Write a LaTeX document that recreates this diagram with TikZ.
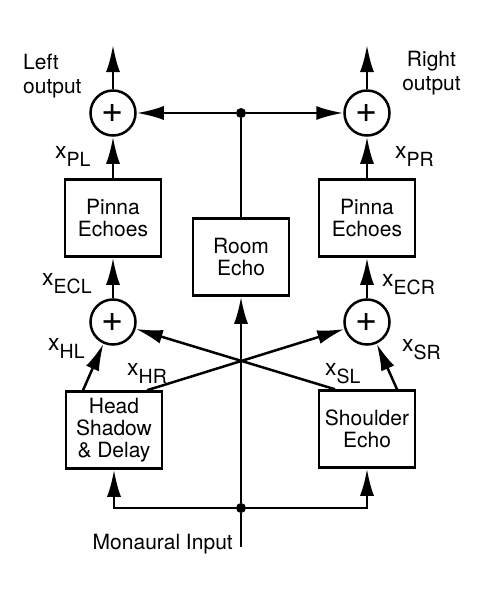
\documentclass[tikz,border=0pt]{standalone}
\usepackage{fontspec}
\setmainfont{TeX Gyre Heros}
\usetikzlibrary{arrows.meta,calc}
\newcommand{\xlab}[1]{{\fontsize{23}{23}\selectfont x}\raisebox{-8pt}{\fontsize{19.5}{19.5}\selectfont #1}}
\begin{document}
\begin{tikzpicture}[x=1pt,y=-1pt,
  every node/.style={font=\fontsize{21}{22}\selectfont, inner sep=0pt},
  blk/.style={draw, line width=2.5pt, minimum width=96pt, minimum height=77pt, align=center},
  sum/.style={draw, circle, line width=2.5pt, minimum size=45pt, font=\fontsize{38}{38}\selectfont},
  dot/.style={circle, fill, minimum size=10pt},
  arr/.style={line width=2.5pt, -{Latex[length=27pt,width=14pt]}},
  ln/.style={line width=2.5pt},
  lbl/.style={anchor=base west}]
\fill[white] (0,0) rectangle (498,602);
\useasboundingbox (0,0) rectangle (498,602);

% summing junctions
\node[sum] (cPL) at (113,113) {+};
\node[sum] (cPR) at (367,113) {+};
\node[sum] (cEL) at (113,322) {+};
\node[sum] (cER) at (367,322) {+};

% blocks
\node[blk] (pL) at (113,218) {Pinna\\Echoes};
\node[blk] (pR) at (367,218) {Pinna\\Echoes};
\node[blk] (room) at (241,257) {Room\\Echo};
\node[blk] (head) at (114,430) {Head\\Shadow\\\& Delay};
\node[blk] (sh) at (367,429) {Shoulder\\Echo};

% junction dots and free ends
\node[dot] (jT) at (241,113) {};
\node[dot] (jB) at (241,508) {};
\coordinate (oL) at (113,45);
\coordinate (oR) at (367,45);
\coordinate (bot) at (241,547);
\coordinate (h1) at ($(head.north)+(-31,0)$);
\coordinate (h2) at ($(head.north)+(33,0)$);
\coordinate (s1) at ($(sh.north)+(-32,0)$);
\coordinate (s2) at ($(sh.north)+(30,0)$);

% texts
\node[align=left, font=\fontsize{21}{24}\selectfont, anchor=west] (tLO) at (23,76) {Left\\output};
\node[align=center, font=\fontsize{21}{24}\selectfont] (tRO) at (431.5,73) {Right\\output};
\node[anchor=base east] (tIn) at (233,549) {Monaural Input};
\node[lbl] (tPL) at (55,158) {\xlab{PL}};
\node[lbl] (tPR) at (395,158) {\xlab{PR}};
\node[lbl] (tECL) at (42,285) {\xlab{ECL}};
\node[lbl] (tECR) at (382,286) {\xlab{ECR}};
\node[lbl] (tHL) at (48,350) {\xlab{HL}};
\node[lbl] (tHR) at (127,375) {\xlab{HR}};
\node[lbl] (tSL) at (325,375) {\xlab{SL}};
\node[lbl] (tSR) at (402,351) {\xlab{SR}};

% connectors
\draw[arr] (cPL) -- (oL);
\draw[arr] (cPR) -- (oR);
\draw[arr] (jT) -- (cPL);
\draw[arr] (jT) -- (cPR);
\draw[ln] (room.north) -- (jT);
\draw[arr] (pL) -- (cPL);
\draw[arr] (pR) -- (cPR);
\draw[arr] (cEL) -- (pL);
\draw[arr] (cER) -- (pR);
\draw[ln] (bot) -- (jB);
\draw[arr] (jB) -- (room.south);
\draw[arr] (jB) -| (head.south);
\draw[arr] (jB) -| (sh.south);
\draw[arr] (h1) -- (cEL);
\draw[arr] (h2) -- (cER);
\draw[arr] (s1) -- (cEL);
\draw[arr] (s2) -- (cER);
\end{tikzpicture}
\end{document}
